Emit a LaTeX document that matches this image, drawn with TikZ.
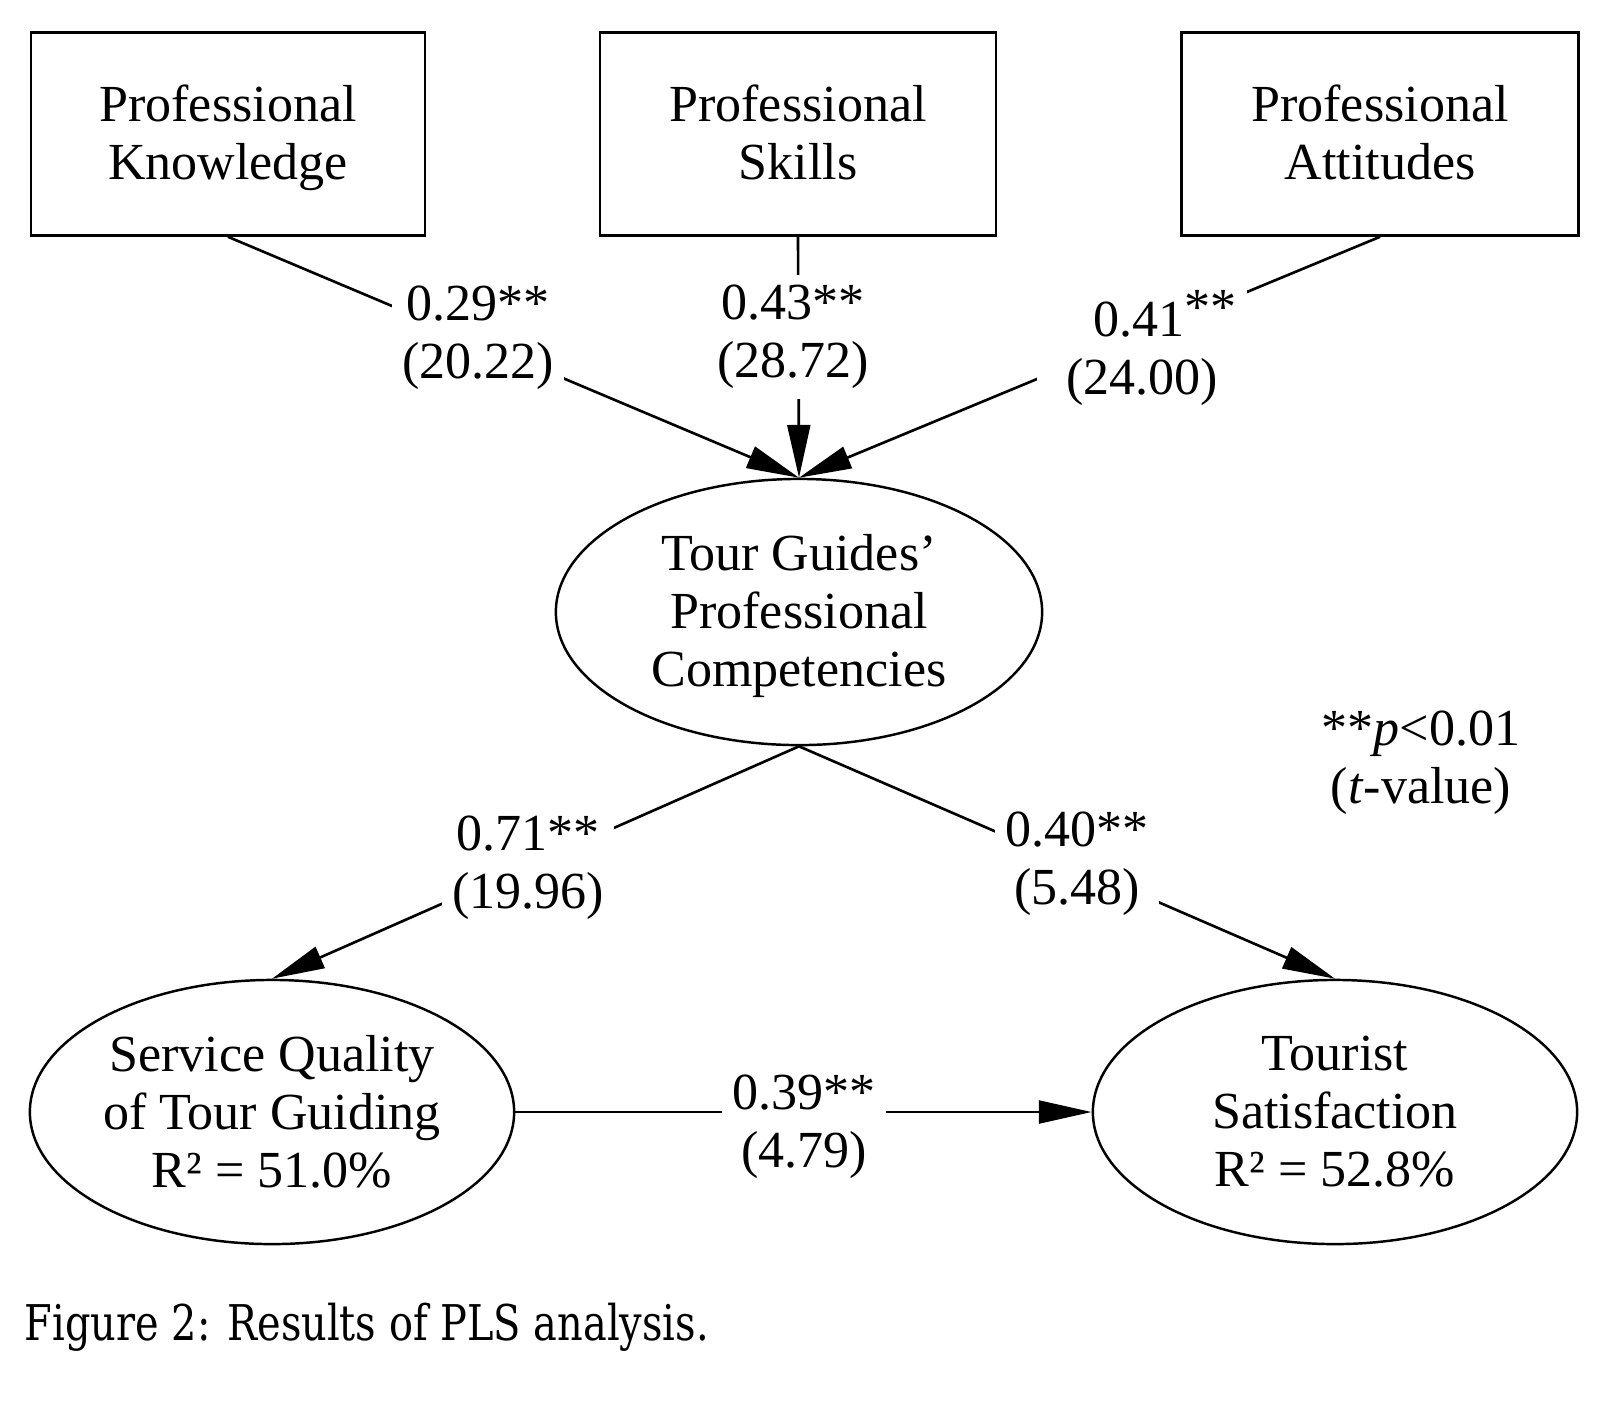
\documentclass[tikz,border=0pt]{standalone}
\usepackage{fontspec}
\setmainfont{Liberation Serif}
\newfontfamily\capfont[FakeStretch=0.81]{DejaVu Serif}
\usetikzlibrary{shapes.geometric,arrows.meta}
\newcommand{\toplead}{\rule{0pt}{12.5pt}}
\begin{document}
\begin{tikzpicture}[x=0.01cm,y=-0.01cm,
  every node/.style={font=\fontsize{14.8pt}{16.5pt}\selectfont},
  box/.style={draw,line width=0.7pt,rectangle,minimum height=2.03cm,align=center,inner sep=0pt},
  ell/.style={draw,line width=0.7pt,ellipse,inner sep=0pt,align=center},
  lab/.style={fill=white,align=center,inner sep=3pt},
  arr/.style={line width=0.75pt,-{Triangle[length=15pt,width=6.5pt]}}]
\useasboundingbox (0,0) rectangle (1606,1411);

% boxes
\node[box,minimum width=3.94cm] (b1) at (228,134) {\toplead Professional\\Knowledge};
\node[box,minimum width=3.96cm] (b2) at (798,134) {\toplead Professional\\Skills\vphantom{g}};
\node[box,minimum width=3.97cm] (b3) at (1380,134) {\toplead Professional\\Attitudes\vphantom{g}};

% ellipses
\node[ell,minimum width=4.86cm,minimum height=2.66cm] (tgpc) at (799,612) {\toplead Tour Guides'\\Professional\\Competencies};
\node[ell,minimum width=4.84cm,minimum height=2.64cm] (sq) at (272,1112) {Service Quality\\of Tour Guiding\\R² = 51.0\%};
\node[ell,minimum width=4.84cm,minimum height=2.64cm] (ts) at (1335,1112) {Tourist\\Satisfaction\\R² = 52.8\%};

% connectors
\draw[arr] (b1.south) -- (tgpc.north);
\draw[arr] (b2.south) -- (tgpc.north);
\draw[arr] (b3.south) -- (tgpc.north);
\draw[arr] (tgpc.south) -- (sq.north);
\draw[arr] (tgpc.south) -- (ts.north);
\draw[arr] (sq.east) -- (ts.west);

% labels
\node[lab] (l1) at (478,338) {0.29**\\(20.22)};
\node[lab] (l2) at (793,337) {0.43**\\(28.72)};
\node[lab] (l3) at (1142,348) {\hspace*{13pt}0.41\raisebox{3.5pt}{**}\\(24.00)};
\node[lab] (l4) at (528,868) {0.71**\\(19.96)};
\node[lab] (l5) at (1077,864) {0.40**\\(5.48)};
\node[lab] (l6) at (804,1127) {0.39**\\(4.79)};

% legend
\node[align=center] (leg) at (1421,763) {**\textit{p}<0.01\\(\textit{t}-value)};

% caption
\node[anchor=base west,inner sep=0pt,font=\capfont\fontsize{14pt}{16pt}\selectfont] (cap) at (24,1340) {Figure 2: Results of PLS analysis.};
\end{tikzpicture}
\end{document}
